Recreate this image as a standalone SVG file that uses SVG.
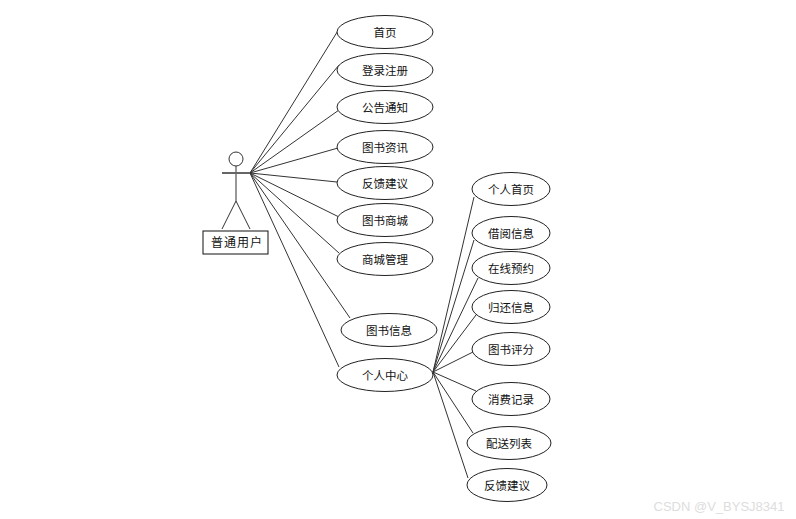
<svg xmlns="http://www.w3.org/2000/svg" width="796" height="519" viewBox="0 0 796 519">
<style>
.n ellipse{fill:#fff;stroke:#222;stroke-width:1}
.n text,.a text{font-family:"Noto Sans CJK SC","Liberation Sans",sans-serif;font-size:11.5px;fill:#111;text-anchor:middle}
#connectors line{stroke:#333;stroke-width:1}
.a line,.a circle{stroke:#333;stroke-width:1;fill:#fff}
</style>
<rect width="796" height="519" fill="#fff"/>
<g id="connectors">
<line x1="250" y1="173" x2="339" y2="29"/>
<line x1="250" y1="173" x2="339" y2="65"/>
<line x1="250" y1="173" x2="339" y2="110"/>
<line x1="250" y1="173" x2="338" y2="148"/>
<line x1="250" y1="173" x2="337" y2="182"/>
<line x1="250" y1="173" x2="339" y2="217"/>
<line x1="250" y1="173" x2="339" y2="253"/>
<line x1="250" y1="173" x2="350" y2="318"/>
<line x1="250" y1="173" x2="339" y2="367"/>
<line x1="433" y1="372" x2="474" y2="197"/>
<line x1="433" y1="372" x2="474" y2="240"/>
<line x1="433" y1="372" x2="478" y2="278"/>
<line x1="433" y1="372" x2="476" y2="315"/>
<line x1="433" y1="372" x2="473" y2="352"/>
<line x1="433" y1="372" x2="476" y2="391"/>
<line x1="433" y1="372" x2="473" y2="433"/>
<line x1="433" y1="372" x2="468" y2="478"/>
</g>
<g id="actor" class="a">
<circle cx="236" cy="159" r="7"/>
<line x1="236" y1="166" x2="236" y2="201"/>
<line x1="222" y1="173" x2="250" y2="173" style="stroke:#666;stroke-width:2"/>
<line x1="236" y1="201" x2="222" y2="229"/>
<line x1="236" y1="201" x2="250" y2="229"/>
<rect x="203" y="231" width="65" height="23" fill="#fff" stroke="#111"/>
<text x="237" y="247" style="font-size:12px;letter-spacing:1px">普通用户</text>
</g>
<g id="n1" class="n"><ellipse cx="385" cy="32" rx="48" ry="16.500"/><text x="385" y="37">首页</text></g>
<g id="n2" class="n"><ellipse cx="385" cy="70" rx="48" ry="16.500"/><text x="385" y="75">登录注册</text></g>
<g id="n3" class="n"><ellipse cx="385" cy="107" rx="48" ry="16.500"/><text x="385" y="112">公告通知</text></g>
<g id="n4" class="n"><ellipse cx="385" cy="147" rx="48" ry="16.500"/><text x="385" y="152">图书资讯</text></g>
<g id="n5" class="n"><ellipse cx="385" cy="183" rx="48" ry="16.500"/><text x="385" y="188">反馈建议</text></g>
<g id="n6" class="n"><ellipse cx="385" cy="220" rx="48" ry="16.500"/><text x="385" y="225">图书商城</text></g>
<g id="n7" class="n"><ellipse cx="385" cy="259" rx="48" ry="16.500"/><text x="385" y="264">商城管理</text></g>
<g id="n8" class="n"><ellipse cx="389" cy="330" rx="48" ry="16.500"/><text x="389" y="335">图书信息</text></g>
<g id="n9" class="n"><ellipse cx="385" cy="375" rx="48" ry="16.500"/><text x="385" y="380">个人中心</text></g>
<g id="m1" class="n"><ellipse cx="511" cy="189" rx="39" ry="16.500"/><text x="511" y="194">个人首页</text></g>
<g id="m2" class="n"><ellipse cx="511" cy="233" rx="39" ry="16.500"/><text x="511" y="238">借阅信息</text></g>
<g id="m3" class="n"><ellipse cx="511" cy="268" rx="39" ry="16.500"/><text x="511" y="273">在线预约</text></g>
<g id="m4" class="n"><ellipse cx="511" cy="307" rx="39" ry="16.500"/><text x="511" y="312">归还信息</text></g>
<g id="m5" class="n"><ellipse cx="511" cy="349" rx="39" ry="16.500"/><text x="511" y="354">图书评分</text></g>
<g id="m6" class="n"><ellipse cx="511" cy="399" rx="39" ry="16.500"/><text x="511" y="404">消费记录</text></g>
<g id="m7" class="n"><ellipse cx="509" cy="443" rx="42" ry="16.500"/><text x="509" y="448">配送列表</text></g>
<g id="m8" class="n"><ellipse cx="507" cy="485" rx="40" ry="16.500"/><text x="507" y="490">反馈建议</text></g>
<text x="719" y="511" style="font-family:'Liberation Sans',sans-serif;font-size:13px;fill:#ddd;text-anchor:middle">CSDN @V_BYSJ8341</text>
</svg>
